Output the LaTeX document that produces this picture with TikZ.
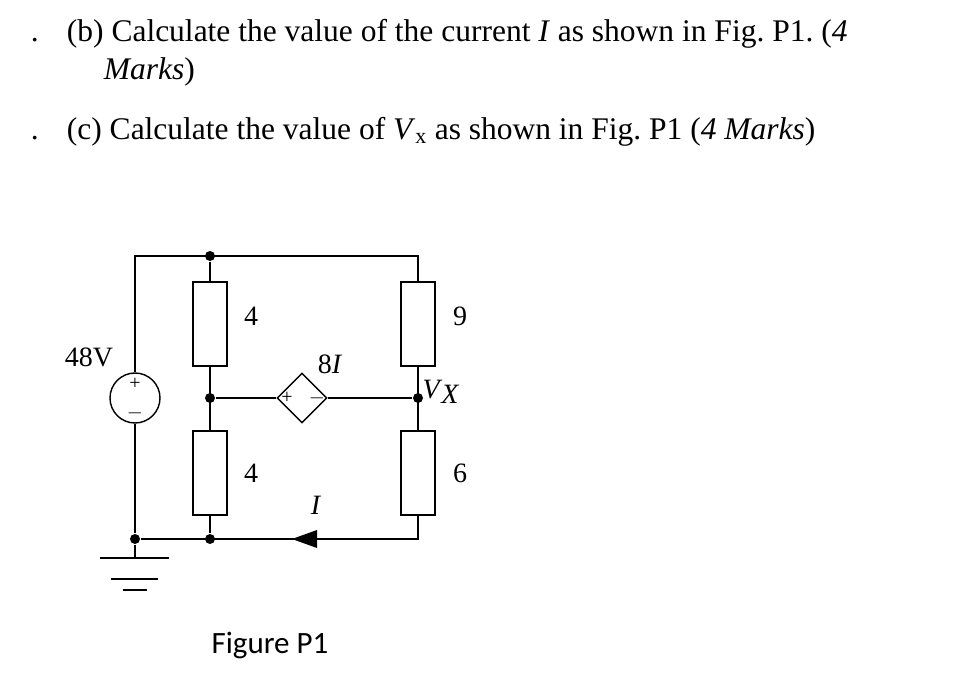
\documentclass[tikz,border=0pt]{standalone}
\usetikzlibrary{shapes.geometric}
\usepackage{fontspec}
\setmainfont{Liberation Serif}
\newfontfamily\calib{Carlito}
\begin{document}
\begin{tikzpicture}[x=1pt,y=-1pt,line width=1.8pt,
  res/.style={draw,line width=1.8pt,minimum width=34pt,minimum height=84pt,inner sep=0pt},
  dot/.style={circle,fill,inner sep=0pt,minimum size=10pt},
  big/.style={font=\fontsize{31.5}{36}\selectfont,inner sep=0pt},
  lab/.style={font=\fontsize{28}{32}\selectfont,inner sep=0pt},
  sgn/.style={font=\fontsize{20}{20}\selectfont,inner sep=0pt}]
\useasboundingbox (0,0) rectangle (970,690);
% text
\node[big,anchor=base west] (d1) at (30,42) {.};
\node[big,anchor=base west] (t1) at (66,42) {(b) Calculate the value of the current \textit{I} as shown in Fig.\ P1.\ (\textit{4}};
\node[big,anchor=base west] (t2) at (103,80) {\textit{Marks})};
\node[big,anchor=base west] (d2) at (30,140) {.};
\node[big,anchor=base west] (t3) at (66,140) {(c) Calculate the value of \textit{V}$_{\mathrm{x}}$ as shown in Fig.\ P1 (\textit{4 Marks})};
% coordinates
\coordinate (tl) at (135,256); \coordinate (tr) at (418,256);
\coordinate (bl) at (135,539); \coordinate (br) at (418,539);
\node[dot] (nt) at (210,256) {};
\node[dot] (nm) at (210,398) {};
\node[dot] (nb) at (210,539) {};
\node[dot] (ng) at (135,539) {};
\node[dot] (nx) at (418,398) {};
\node[res] (r1) at (210,324) {};
\node[res] (r2) at (210,473) {};
\node[res] (r3) at (418,324) {};
\node[res] (r4) at (418,473) {};
\node[draw,circle,minimum size=50pt,inner sep=0pt,line width=1.4pt] (src) at (135,398) {};
\node[sgn] (sp) at (135,384) {+};
\node[sgn] (sm) at (135,413) {$-$};
\node[draw,diamond,minimum width=50pt,minimum height=50pt,inner sep=0pt,line width=1.4pt,shape aspect=1] (dep) at (302,398) {};
\node[sgn] (dp) at (287,398) {+};
\node[sgn] (dm) at (317,398) {$-$};
% wires
\draw (src.north) -- (tl) -- (tr) -- (r3.north);
\draw (nt) -- (r1.north); \draw (r1.south) -- (r2.north);
\draw (r3.south) -- (r4.north);
\draw (nm) -- (dep.west); \draw (dep.east) -- (nx);
\draw (src.south) -- (ng) -- (br) -- (r4.south);
\draw (r2.south) -- (nb);
\coordinate (ga) at (135,558);
\draw (ng) -- (ga);
\draw (100,558) -- (169,558);
\draw (111,579) -- (158,579);
\draw (123,590) -- (147,590);
\coordinate (atip) at (292,539);
\fill (atip) -- (317,530) -- (317,548) -- cycle;
% labels
\node[lab] (l1) at (251,316) {4};
\node[lab] (l2) at (251,473) {4};
\node[lab] (l3) at (460,316) {9};
\node[lab] (l4) at (460,473) {6};
\node[lab] (l5) at (89,357) {48V};
\node[lab] (l6) at (330,364) {8\textit{I}};
\node[lab] (l7) at (441,392) {\textit{V}\kern-1pt\raisebox{-5pt}{\textit{X}}};
\node[lab] (l8) at (316,505) {\textit{I}};
\node[inner sep=0pt,font=\calib\fontsize{31}{36}\selectfont] (fig) at (270,645) {Figure P1};
\end{tikzpicture}
\end{document}
